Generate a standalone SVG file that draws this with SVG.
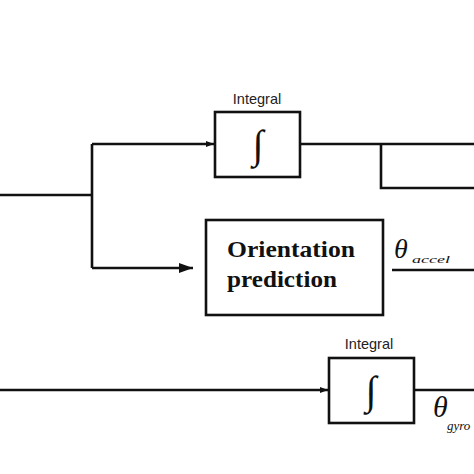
<svg xmlns="http://www.w3.org/2000/svg" width="474" height="474" viewBox="0 0 474 474">
<style>
.ln{fill:none;stroke:#111;stroke-width:2.6}
.bx{fill:#fff;stroke:#111;stroke-width:2.6}
.lbl{font-family:"Liberation Sans",Arial,sans-serif;font-size:14.5px;fill:#222}
.big{font-family:"Liberation Serif","Times New Roman",serif;font-size:23px;font-weight:bold;fill:#111}
.th{font-family:"Liberation Serif","Times New Roman",serif;font-style:italic;fill:#111}
.int{font-family:"Liberation Serif","Times New Roman",serif;font-size:40px;fill:#111}
</style>
<defs>
<marker id="ar" markerWidth="8" markerHeight="6" refX="8" refY="3" orient="auto" markerUnits="userSpaceOnUse">
<path d="M0,0 L8,3 L0,6 Z" fill="#111"/>
</marker>
<marker id="arb" markerWidth="14" markerHeight="10" refX="14" refY="5" orient="auto" markerUnits="userSpaceOnUse">
<path d="M0,0 L14,5 L0,10 Z" fill="#111"/>
</marker>
</defs>
<g id="connectors">
<path class="ln" d="M0,195 H92"/>
<path class="ln" d="M92,144 V268"/>
<path class="ln" d="M92,144 H214" marker-end="url(#ar)"/>
<path class="ln" d="M92,268 H193" marker-end="url(#arb)"/>
<path class="ln" d="M300,144 H474"/>
<path class="ln" d="M381,144 V188 H474"/>
<path class="ln" d="M392,270 H474"/>
<path class="ln" d="M0,390 H328" marker-end="url(#ar)"/>
<path class="ln" d="M414,390 H474"/>
</g>
<g id="integral1">
<rect class="bx" x="215" y="112" width="85" height="65"/>
<text class="lbl" x="257" y="104" text-anchor="middle">Integral</text>
<text class="int" x="258" y="158" text-anchor="middle">∫</text>
</g>
<g id="orientation">
<rect class="bx" x="206" y="220" width="177" height="95"/>
<text class="big" x="227" y="257" textLength="128" lengthAdjust="spacingAndGlyphs">Orientation</text>
<text class="big" x="227" y="287" textLength="110" lengthAdjust="spacingAndGlyphs">prediction</text>
</g>
<g id="theta-accel">
<text class="th" x="394" y="258" font-size="28">θ</text>
<text class="th" x="412" y="263" font-size="11" textLength="38" lengthAdjust="spacingAndGlyphs">accel</text>
</g>
<g id="integral2">
<rect class="bx" x="329" y="358" width="85" height="65"/>
<text class="lbl" x="369" y="349" text-anchor="middle">Integral</text>
<text class="int" x="371" y="404" text-anchor="middle">∫</text>
</g>
<g id="theta-gyro">
<text class="th" x="433" y="417" font-size="30">θ</text>
<text class="th" x="447" y="430" font-size="13">gyro</text>
</g>
</svg>
